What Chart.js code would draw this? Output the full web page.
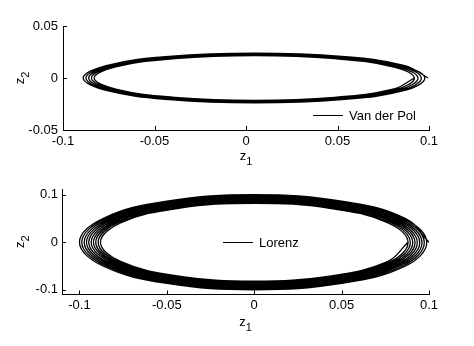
<!DOCTYPE html>
<html>
<head>
<meta charset="utf-8">
<script src="https://cdn.jsdelivr.net/npm/chart.js@4/dist/chart.umd.min.js"></script>
<style>
  html, body { margin: 0; padding: 0; background: #fff; }
  #wrap { position: relative; width: 474px; height: 346px; }
  canvas { position: absolute; left: 0; }
</style>
</head>
<body>
<div id="wrap">
  <canvas id="vdpChart" width="474" height="173" style="top:0"></canvas>
  <canvas id="lorenzChart" width="474" height="173" style="top:173px"></canvas>
</div>
<script>
// Van der Pol trajectory (z1, z2)
const vdpZ1 = [
  0.0995, 0.0868, 0.0523, 0.005, -0.042, -0.0764, -0.089, -0.0764, -0.042, 0.005, 0.0523, 0.0868,
  0.0977, 0.0853, 0.0514, 0.005, -0.0413, -0.0751, -0.0875, -0.0751, -0.0413, 0.005, 0.0514, 0.0853,
  0.0958, 0.0836, 0.0504, 0.005, -0.0405, -0.0738, -0.086, -0.0738, -0.0405, 0.005, 0.0504, 0.0836,
  0.094, 0.0821, 0.0495, 0.005, -0.0398, -0.0725, -0.0845, -0.0725, -0.0398, 0.005, 0.0495, 0.0821,
  0.092, 0.0803, 0.0485, 0.005, -0.039, -0.0712, -0.083, -0.0712, -0.039, 0.005, 0.0485, 0.0803,
  0.092
];
const vdpZ2 = [
  0, 0.012, 0.0208, 0.024, 0.0208, 0.012, 0, -0.012, -0.0208, -0.024, -0.0208, -0.012,
  0, 0.0117, 0.0203, 0.0234, 0.0203, 0.0117, 0, -0.0117, -0.0203, -0.0234, -0.0203, -0.0117,
  0, 0.0114, 0.0197, 0.0228, 0.0197, 0.0114, 0, -0.0114, -0.0197, -0.0228, -0.0197, -0.0114,
  0, 0.011, 0.0191, 0.0221, 0.0191, 0.011, 0, -0.011, -0.0191, -0.0221, -0.0191, -0.011,
  0, 0.0108, 0.0186, 0.0215, 0.0186, 0.0108, 0, -0.0108, -0.0186, -0.0215, -0.0186, -0.0108,
  0
];

// Lorenz trajectory (z1, z2)
const lorenzZ1 = [
  0.1, 0.0866, 0.05, 0, -0.05, -0.0866, -0.1, -0.0866, -0.05, 0, 0.05, 0.0866,
  0.0987, 0.0855, 0.0494, 0, -0.0494, -0.0855, -0.0987, -0.0855, -0.0494, 0, 0.0494, 0.0855,
  0.0973, 0.0843, 0.0487, 0, -0.0487, -0.0843, -0.0973, -0.0843, -0.0487, 0, 0.0487, 0.0843,
  0.096, 0.0831, 0.048, 0, -0.048, -0.0831, -0.096, -0.0831, -0.048, 0, 0.048, 0.0831,
  0.0947, 0.082, 0.0474, 0, -0.0474, -0.082, -0.0947, -0.082, -0.0474, 0, 0.0474, 0.082,
  0.0933, 0.0808, 0.0467, 0, -0.0467, -0.0808, -0.0933, -0.0808, -0.0467, 0, 0.0467, 0.0808,
  0.092, 0.0797, 0.046, 0, -0.046, -0.0797, -0.092, -0.0797, -0.046, 0, 0.046, 0.0797,
  0.0907, 0.0785, 0.0454, 0, -0.0454, -0.0785, -0.0907, -0.0785, -0.0454, 0, 0.0454, 0.0785,
  0.0893, 0.0773, 0.0447, 0, -0.0447, -0.0773, -0.0893, -0.0773, -0.0447, 0, 0.0447, 0.0773,
  0.088, 0.0762, 0.044, 0, -0.044, -0.0762, -0.088, -0.0762, -0.044, 0, 0.044, 0.0762,
  0.088
];
const lorenzZ2 = [
  0, 0.05, 0.0866, 0.1, 0.0866, 0.05, 0, -0.05, -0.0866, -0.1, -0.0866, -0.05,
  0, 0.049, 0.0849, 0.098, 0.0849, 0.049, 0, -0.049, -0.0849, -0.098, -0.0849, -0.049,
  0, 0.048, 0.0831, 0.096, 0.0831, 0.048, 0, -0.048, -0.0831, -0.096, -0.0831, -0.048,
  0, 0.047, 0.0814, 0.094, 0.0814, 0.047, 0, -0.047, -0.0814, -0.094, -0.0814, -0.047,
  0, 0.046, 0.0797, 0.092, 0.0797, 0.046, 0, -0.046, -0.0797, -0.092, -0.0797, -0.046,
  0, 0.045, 0.0779, 0.09, 0.0779, 0.045, 0, -0.045, -0.0779, -0.09, -0.0779, -0.045,
  0, 0.044, 0.0762, 0.088, 0.0762, 0.044, 0, -0.044, -0.0762, -0.088, -0.0762, -0.044,
  0, 0.043, 0.0745, 0.086, 0.0745, 0.043, 0, -0.043, -0.0745, -0.086, -0.0745, -0.043,
  0, 0.042, 0.0727, 0.084, 0.0727, 0.042, 0, -0.042, -0.0727, -0.084, -0.0727, -0.042,
  0, 0.041, 0.071, 0.082, 0.071, 0.041, 0, -0.041, -0.071, -0.082, -0.071, -0.041,
  0
];

// tick labels
const vdpXTicks = [-0.1, -0.05, 0, 0.05, 0.1];
const vdpYTicks = [-0.05, 0, 0.05];
const lorenzXTicks = [-0.1, -0.05, 0, 0.05, 0.1];
const lorenzYTicks = [-0.1, 0, 0.1];

// axis titles: letter + subscript
const xTitle = ['z', '1'];
const yTitle = ['z', '2'];

const FONT = '"Liberation Sans", Arial, sans-serif';
Chart.defaults.font.family = FONT;
Chart.defaults.font.size = 13;
Chart.defaults.color = '#000';

function drawSubscripted(ctx, parts, cx, cy, rot) {
    ctx.save();
    ctx.translate(cx, cy);
    ctx.rotate(rot);
    ctx.textAlign = 'left';
    ctx.textBaseline = 'alphabetic';
    ctx.font = '13px ' + FONT;
    const w1 = ctx.measureText(parts[0]).width;
    ctx.font = '11px ' + FONT;
    const w2 = ctx.measureText(parts[1]).width;
    const x0 = -(w1 + w2) / 2;
    ctx.font = '13px ' + FONT;
    ctx.fillText(parts[0], x0, 3);
    ctx.font = '11px ' + FONT;
    ctx.fillText(parts[1], x0 + w1, 8);
    ctx.restore();
}

// matlab style: inward ticks, subscripted axis labels and a box-less legend
const matlabAxes = {
    id: 'matlabAxes',
    afterDraw(chart, args, opts) {
        const ctx = chart.ctx;
        const { left, right, top, bottom } = chart.chartArea;
        const xs = chart.scales.x, ys = chart.scales.y;
        ctx.save();
        ctx.strokeStyle = '#000';
        ctx.fillStyle = '#000';
        ctx.lineWidth = 1;
        ctx.beginPath();
        xs.ticks.forEach(t => {
            const px = Math.round(xs.getPixelForValue(t.value)) + 0.5;
            ctx.moveTo(px, bottom);
            ctx.lineTo(px, bottom - 4);
        });
        ys.ticks.forEach(t => {
            const py = Math.round(ys.getPixelForValue(t.value)) + 0.5;
            ctx.moveTo(left, py);
            ctx.lineTo(left + 4, py);
        });
        // legend sample line
        ctx.moveTo(opts.x, opts.y + 0.5);
        ctx.lineTo(opts.x + 30, opts.y + 0.5);
        ctx.stroke();
        ctx.font = '13px ' + FONT;
        ctx.textBaseline = 'middle';
        ctx.fillText(chart.data.datasets[0].label, opts.x + 36, opts.y + 1);

        drawSubscripted(ctx, xTitle, (left + right) / 2, opts.xTitleY, 0);
        drawSubscripted(ctx, yTitle, 21, (top + bottom) / 2, -Math.PI / 2);
        ctx.restore();
    }
};

function makePhaseChart(id, label, z1, z2, xTicks, yTicks, lim, box) {
    const ctx = document.getElementById(id).getContext('2d');
    return new Chart(ctx, {
        type: 'scatter',
        data: {
            datasets: [{
                label: label,
                data: z1.map((v, i) => ({ x: v, y: z2[i] })),
                showLine: true,
                borderColor: '#000',
                borderWidth: 1.3,
                pointRadius: 0,
                tension: 0.4,
                fill: false
            }]
        },
        options: {
            responsive: false,
            animation: false,
            layout: { padding: { top: box.top, right: box.right, left: 0, bottom: 0 } },
            plugins: {
                legend: { display: false },
                tooltip: { enabled: false },
                matlabAxes: box.legend
            },
            scales: {
                x: {
                    type: 'linear',
                    min: lim.xmin, max: lim.xmax,
                    afterBuildTicks: s => { s.ticks = xTicks.map(v => ({ value: v })); },
                    afterFit: s => { s.height = box.xAxisH; },
                    grid: { display: false, drawTicks: false },
                    border: { display: true, color: '#000', width: 1 },
                    ticks: { padding: box.xTickPad, autoSkip: false, maxRotation: 0, callback: v => String(v) }
                },
                y: {
                    type: 'linear',
                    min: lim.ymin, max: lim.ymax,
                    afterBuildTicks: s => { s.ticks = yTicks.map(v => ({ value: v })); },
                    afterFit: s => { s.width = box.yAxisW; },
                    grid: { display: false, drawTicks: false },
                    border: { display: true, color: '#000', width: 1 },
                    ticks: { padding: box.yTickPad, autoSkip: false, callback: v => String(v) }
                }
            }
        },
        plugins: [matlabAxes]
    });
}

makePhaseChart('vdpChart', 'Van der Pol', vdpZ1, vdpZ2, vdpXTicks, vdpYTicks,
    { xmin: -0.1, xmax: 0.1, ymin: -0.05, ymax: 0.05 },
    { top: 26, right: 45, xAxisH: 43, yAxisW: 63, xTickPad: 4, yTickPad: 5,
      legend: { x: 313, y: 115, xTitleY: 157 } });

makePhaseChart('lorenzChart', 'Lorenz', lorenzZ1, lorenzZ2, lorenzXTicks, lorenzYTicks,
    { xmin: -0.11, xmax: 0.1, ymin: -0.11, ymax: 0.112 },
    { top: 16, right: 45, xAxisH: 51.5, yAxisW: 62, xTickPad: 3, yTickPad: 4,
      legend: { x: 223, y: 69, xTitleY: 150 } });
</script>
</body>
</html>
